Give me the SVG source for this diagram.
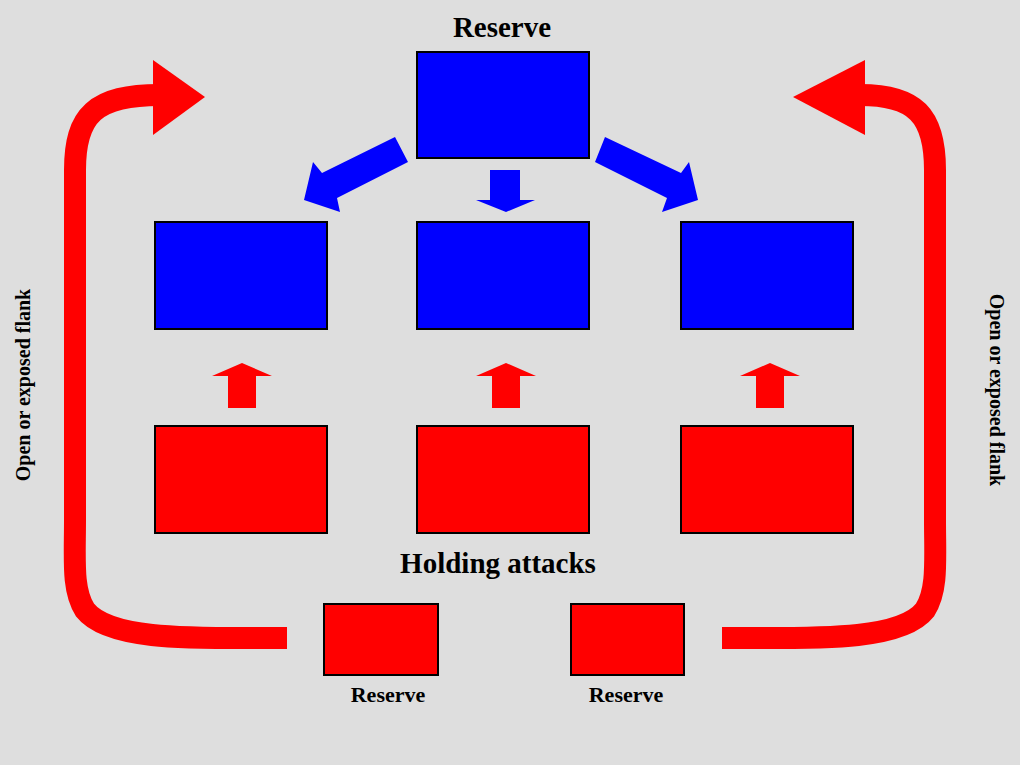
<svg xmlns="http://www.w3.org/2000/svg" width="1020" height="765" viewBox="0 0 1020 765">
<style>
.b{fill:#0000ff;stroke:#000;stroke-width:2}
.r{fill:#ff0000;stroke:#000;stroke-width:2}
.ba{fill:#0000ff}
.ra{fill:#ff0000}
.fl{fill:none;stroke:#ff0000;stroke-width:22}
text{font-family:"Liberation Serif",serif;font-weight:bold;fill:#000;text-anchor:middle}
</style>
<rect width="1020" height="765" fill="#dedede"/>
<g id="connectors">
<polygon class="ba" points="395,137 408,162 337,198 340,212 304,200 313,162 322,173"/>
<polygon class="ba" points="605,137 595,162 667,198 662,212 698,200 689,162 681,173"/>
<polygon class="ba" points="490,170 520,170 520,200 535,200 506,212 476,200 490,200"/>
<polygon class="ra" points="228,408 256,408 256,376 272,376 242,363 212,376 228,376"/>
<polygon class="ra" points="492,408 520,408 520,376 536,376 506,363 476,376 492,376"/>
<polygon class="ra" points="756,408 784,408 784,376 800,376 770,363 740,376 756,376"/>
<path class="fl" d="M287,638 C200,638 110,642 85,610 C72,590 75,560 75,520 L75,170 C75,115 95,95 160,95"/>
<polygon class="ra" points="153,60 205,97 153,135"/>
<path class="fl" d="M722,638 C810,638 900,642 925,610 C938,590 935,560 935,520 L935,170 C935,115 915,95 860,95"/>
<polygon class="ra" points="865,60 793,97 865,135"/>
</g>
<g id="reserve-top"><rect class="b" x="417" y="52" width="172" height="106"/></g>
<g id="blue-left"><rect class="b" x="155" y="222" width="172" height="107"/></g>
<g id="blue-mid"><rect class="b" x="417" y="222" width="172" height="107"/></g>
<g id="blue-right"><rect class="b" x="681" y="222" width="172" height="107"/></g>
<g id="red-left"><rect class="r" x="155" y="426" width="172" height="107"/></g>
<g id="red-mid"><rect class="r" x="417" y="426" width="172" height="107"/></g>
<g id="red-right"><rect class="r" x="681" y="426" width="172" height="107"/></g>
<g id="reserve-left"><rect class="r" x="324" y="604" width="114" height="71"/></g>
<g id="reserve-right"><rect class="r" x="571" y="604" width="113" height="71"/></g>
<text x="502" y="37" font-size="29">Reserve</text>
<text x="498" y="573" font-size="29">Holding attacks</text>
<text x="388" y="702" font-size="22">Reserve</text>
<text x="626" y="702" font-size="22">Reserve</text>
<text transform="translate(30,385) rotate(-90)" font-size="20">Open or exposed flank</text>
<text transform="translate(990,390) rotate(90)" font-size="20">Open or exposed flank</text>
</svg>
